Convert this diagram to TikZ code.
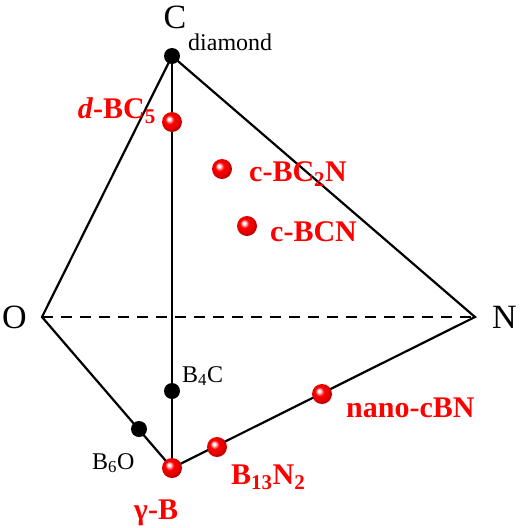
\documentclass[tikz,border=0pt]{standalone}
\usepackage{fontspec}
\setmainfont{Liberation Serif}
\usetikzlibrary{positioning}
\pgfdeclareradialshading{redball}{\pgfpoint{-8bp}{8bp}}{color(0bp)=(white); color(3bp)=(white); color(11bp)=(red); color(22bp)=(red!88!black); color(25bp)=(red!75!black); color(50bp)=(red!75!black)}
\tikzset{
  edge/.style={line width=2.2pt},
  hidden/.style={line width=2pt, dash pattern=on 11pt off 8pt},
  bdot/.style={circle, fill=black, inner sep=0pt, minimum size=16pt},
  rball/.style={circle, shading=redball, inner sep=0pt, minimum size=20pt},
  vlab/.style={font=\fontsize{34}{34}\selectfont, inner sep=0pt},
  blab/.style={font=\fontsize{24}{24}\selectfont, inner sep=0pt},
  rlab/.style={text=red, font=\fontsize{30}{30}\selectfont\bfseries, inner sep=0pt},
}
\begin{document}
\begin{tikzpicture}[x=1pt, y=-1pt]
    \useasboundingbox (0,0) rectangle (520,528);
    % vertices of the tetrahedron
    \coordinate (vC) at (172,56);
    \coordinate (vO) at (42,317);
    \coordinate (vN) at (475,317);
    \coordinate (vB) at (172,468);
    % edges
    \draw[hidden] (vO) -- (vN);
    \draw[edge] (vC) -- (vO) -- (vB) -- (vN) -- cycle;
    \draw[edge] (vC) -- (vB);
    % black dots
    \node[bdot] (C) at (vC) {};
    \node[bdot] (B4C) at (172,391) {};
    \node[bdot] (B6O) at (139,429) {};
    % red balls
    \node[rball] (gB) at (vB) {};
    \node[rball] (dBC5) at (172,122) {};
    \node[rball] (cBC2N) at (222,169) {};
    \node[rball] (cBCN) at (247,226) {};
    \node[rball] (B13N2) at (217,447) {};
    \node[rball] (ncBN) at (322,394) {};
    % vertex labels
    \node[vlab, anchor=base] (labC) at (175,28) {C};
    \node[vlab, anchor=base] (labO) at (14.5,328) {O};
    \node[vlab, anchor=base] (labN) at (504.5,328) {N};
    \node[blab, anchor=base west] (labdia) at (188,50) {diamond};
    \node[blab, anchor=base west] (labB4C) at (182,382) {B\textsubscript{4}C};
    \node[blab, anchor=base west] (labB6O) at (92,469) {B\textsubscript{6}O};
    % phase labels
    \node[rlab, anchor=base east] (labdBC5) at (156,118) {\textit{d}-BC\textsubscript{5}};
    \node[rlab, anchor=base west] (labcBC2N) at (249,181) {c-BC\textsubscript{2}N};
    \node[rlab, anchor=base west] (labcBCN) at (270,241) {c-BCN};
    \node[rlab, anchor=base] (labgB) at (156,519) {γ-B};
    \node[rlab, anchor=base west] (labB13N2) at (231,484) {B\textsubscript{13}N\textsubscript{2}};
    \node[rlab, anchor=base west] (labncBN) at (346,417) {nano-cBN};
\end{tikzpicture}
\end{document}
